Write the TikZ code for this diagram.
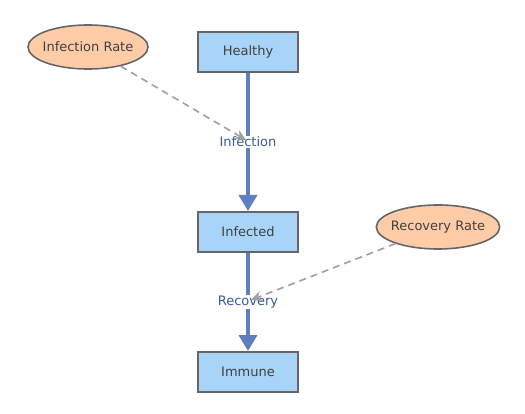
\documentclass[tikz,border=0pt]{standalone}
\usepackage{fontspec}
\setmainfont{DejaVu Sans}
\usetikzlibrary{shapes.geometric,arrows.meta}
\definecolor{boxfill}{HTML}{A8D4F8}
\definecolor{boxline}{HTML}{666666}
\definecolor{ellfill}{HTML}{FFCCA8}
\definecolor{flowc}{HTML}{5F7FBF}
\definecolor{labc}{HTML}{3A5A9A}
\definecolor{dashc}{HTML}{A0A0A0}
\begin{document}
\begin{tikzpicture}[x=1pt,y=-1pt,
  stock/.style={draw=boxline,line width=2pt,fill=boxfill,minimum width=100pt,minimum height=40pt,inner sep=0pt,font=\fontsize{13}{15}\selectfont,text=black!75},
  param/.style={ellipse,draw=boxline,line width=1.6pt,fill=ellfill,minimum width=120pt,minimum height=44pt,inner xsep=-3.5pt,inner ysep=0pt,font=\fontsize{13}{15}\selectfont,text=black!75},
  flowlab/.style={fill=white,text=labc,inner sep=1pt,font=\fontsize{13}{15}\selectfont},
  flow/.style={draw=flowc,line width=3.5pt,-{Triangle[length=16pt,width=18pt]}},
  infl/.style={draw=dashc,line width=1.6pt,dash pattern=on 7pt off 5pt,-{Stealth[length=11pt,width=10pt]}}]
\useasboundingbox (0,0) rectangle (525,414);
\node[stock] (healthy) at (248,52) {Healthy};
\node[stock] (infected) at (248,232) {Infected};
\node[stock] (immune) at (248,372) {Immune};
\node[param] (irate) at (88,47) {Infection Rate};
\node[param] (rrate) at (438,227) {Recovery Rate};
\draw[flow] (healthy) -- (infected);
\draw[flow] (infected) -- (immune);
\node[flowlab] (infection) at (248,142) {Infection};
\node[flowlab] (recovery) at (248,302) {Recovery};
\coordinate (iend) at (246,140);
\coordinate (rend) at (251,300);
\draw[infl] (irate) -- (iend);
\draw[infl] (rrate) -- (rend);
\end{tikzpicture}
\end{document}
